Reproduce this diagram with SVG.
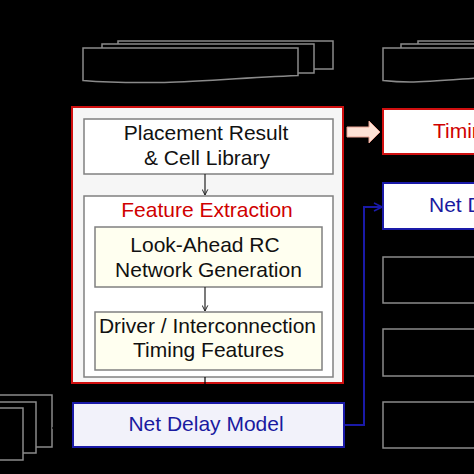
<svg xmlns="http://www.w3.org/2000/svg" width="474" height="474" viewBox="0 0 474 474">
<defs>
<style>
.t{font-family:"Liberation Sans",Arial,sans-serif;font-size:21px;text-anchor:middle;fill:#111}
.doc{fill:#000;stroke:#8a8a8a;stroke-width:1.5}
.gbox{fill:#000;stroke:#8a8a8a;stroke-width:1.5}
.inner{fill:#fffff0;stroke:#808080;stroke-width:1.5}
.conn{fill:none;stroke-width:1.2}
</style>
<marker id="ah" viewBox="0 0 10 10" refX="9" refY="5" markerWidth="7" markerHeight="7" markerUnits="userSpaceOnUse" orient="auto"><path d="M1,1 L9,5 L1,9" fill="none" stroke="#222" stroke-width="1.4"/></marker>
<marker id="ahk" viewBox="0 0 10 10" refX="9" refY="5" markerWidth="7" markerHeight="7" markerUnits="userSpaceOnUse" orient="auto"><path d="M1,1 L9,5 L1,9" fill="none" stroke="#000" stroke-width="1.4"/></marker>
<marker id="ahb" viewBox="0 0 10 10" refX="9" refY="5" markerWidth="10" markerHeight="10" markerUnits="userSpaceOnUse" orient="auto"><path d="M1,1 L9,5 L1,9" fill="none" stroke="#1a1aa8" stroke-width="1.6"/></marker>
</defs>
<rect x="0" y="0" width="474" height="474" fill="#000"/>

<g id="doc-top-left">
<rect class="doc" x="118" y="41" width="215" height="28"/>
<rect class="doc" x="102" y="44" width="212" height="29"/>
<path class="doc" d="M83,48 H298 V75.5 C240,78 190,82 160,82.5 C120,83 100,82 83,80.5 Z"/>
</g>
<g id="doc-top-right">
<rect class="doc" x="418" y="41" width="80" height="28"/>
<rect class="doc" x="401" y="44" width="90" height="29"/>
<path class="doc" d="M383,48 H490 V77 C460,79 430,82 410,82 C400,82 392,81.5 383,80.5 Z"/>
</g>
<g id="doc-bottom-left">
<rect class="doc" x="-30" y="395" width="82" height="52"/>
<rect class="doc" x="-30" y="402" width="66" height="51"/>
<rect class="doc" x="-30" y="408" width="53" height="52"/>
</g>

<g id="main-frame">
<rect x="72" y="107" width="271" height="276" fill="#f6f6f6" stroke="#d01010" stroke-width="2"/>
</g>
<g id="placement">
<rect x="84" y="119" width="249" height="55" fill="#fff" stroke="#808080" stroke-width="1.5"/>
<text class="t" x="206" y="140">Placement Result</text>
<text class="t" x="207" y="165">&amp; Cell Library</text>
</g>
<g id="feature-extraction">
<rect x="84" y="196" width="249" height="181" fill="#fff" stroke="#808080" stroke-width="1.5"/>
<text class="t" x="207" y="217" style="fill:#d00000">Feature Extraction</text>
</g>
<g id="rc-network">
<rect class="inner" x="95" y="227" width="227" height="60"/>
<text class="t" x="205" y="252">Look-Ahead RC</text>
<text class="t" x="208.5" y="277">Network Generation</text>
</g>
<g id="timing-features">
<rect class="inner" x="95" y="312" width="227" height="58"/>
<text class="t" x="207.5" y="333">Driver / Interconnection</text>
<text class="t" x="208.5" y="357">Timing Features</text>
</g>
<g id="net-delay-model">
<rect x="73" y="403" width="271" height="44" fill="#f2f2fa" stroke="#1a1aa8" stroke-width="2"/>
<text class="t" x="206" y="431" style="fill:#1a1aa0">Net Delay Model</text>
</g>

<g id="timing-box">
<rect x="383" y="109" width="110" height="45" fill="#fff" stroke="#d01010" stroke-width="2"/>
<text class="t" x="433" y="138" style="text-anchor:start;fill:#d00000">Timing</text>
</g>
<g id="net-delay-box">
<rect x="383" y="183" width="110" height="46" fill="#fff" stroke="#1a1aa8" stroke-width="2"/>
<text class="t" x="429" y="212" style="text-anchor:start;fill:#1a1aa0">Net Delay</text>
</g>
<g id="right-box-1"><rect class="gbox" x="383" y="257" width="110" height="46"/></g>
<g id="right-box-2"><rect class="gbox" x="383" y="329" width="110" height="47"/></g>
<g id="right-box-3"><rect class="gbox" x="383" y="402" width="110" height="46"/></g>

<g id="connectors">
<path class="conn" stroke="#222" d="M205,174 V195" marker-end="url(#ah)"/>
<path class="conn" stroke="#222" d="M205,287 V311" marker-end="url(#ah)"/>
<path class="conn" stroke="#000" d="M205,377 V402" marker-end="url(#ahk)"/>
<path class="conn" stroke="#000" d="M52,428 H72" marker-end="url(#ahk)"/>
<path fill="none" stroke="#1a1aa8" stroke-width="2" d="M344,425 H364 V207 H382" marker-end="url(#ahb)"/>
<path d="M347,127 H369 V121 L380,132 L369,143 V137 H347 Z" fill="#fde2d6" stroke="#e8a090" stroke-width="1"/>
</g>
</svg>
